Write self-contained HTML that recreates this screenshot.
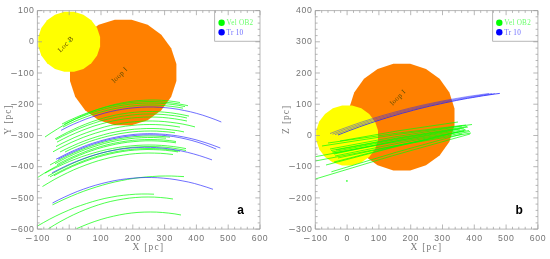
<!DOCTYPE html>
<html lang="en"><head><meta charset="utf-8"><title>Orbits</title>
<style>
html,body{margin:0;padding:0;background:#fff;}
body{width:550px;height:259px;overflow:hidden;}
svg{display:block;}
.tk{font-family:"Liberation Sans","DejaVu Sans",sans-serif;font-size:8.7px;fill:#747474;letter-spacing:0.65px;}
.mn{font-size:10px;}
.ax{font-family:"Liberation Serif","DejaVu Serif",serif;font-size:9.4px;fill:#777;letter-spacing:1.3px;}
.lg{font-family:"Liberation Serif","DejaVu Serif",serif;font-size:7.2px;letter-spacing:0.25px;}
.cl{font-family:"Liberation Serif","DejaVu Serif",serif;font-size:7.1px;fill:#5a4a00;letter-spacing:0.4px;}
.pl{font-family:"Liberation Sans","DejaVu Sans",sans-serif;font-size:12px;font-weight:bold;fill:#000;}
</style></head><body>
<svg width="550" height="259" viewBox="0 0 550 259">
<rect width="550" height="259" fill="#fff"/>
<clipPath id="ca"><rect x="37.4" y="10.6" width="222.6" height="218.5"/></clipPath>
<clipPath id="cb"><rect x="315.3" y="10.6" width="222.6" height="218.5"/></clipPath>
<g clip-path="url(#ca)">
<polygon points="176.4,64.1 171.2,48.2 161.3,34.7 147.7,24.8 131.6,19.7 114.8,19.7 98.7,24.8 85.1,34.7 75.2,48.2 70.0,64.1 70.0,80.9 75.2,96.8 85.1,110.3 98.7,120.2 114.8,125.3 131.6,125.3 147.7,120.2 161.3,110.3 171.2,96.8 176.4,80.9" fill="#ff8000"/>
<polygon points="100.1,37.0 97.1,28.0 91.3,20.3 83.4,14.7 74.1,11.8 64.3,11.8 55.0,14.7 47.1,20.3 41.3,28.0 38.3,37.0 38.3,46.6 41.3,55.6 47.1,63.3 55.0,68.9 64.3,71.8 74.1,71.8 83.4,68.9 91.3,63.3 97.1,55.6 100.1,46.6" fill="#ffff00"/>
<path d="M45.0 137.0 L51.1 132.9 L57.3 129.0 L63.4 125.4 L69.5 122.0 L75.7 118.8 L81.8 115.9 L88.0 113.2 L94.1 110.8 L100.2 108.7 L106.4 106.7 L112.5 105.0 L118.6 103.6 L124.8 102.4 L130.9 101.4 L137.0 100.7 L143.2 100.3 L149.3 100.0 L155.5 100.0 L161.6 100.3 L167.7 100.8 L173.9 101.5 L180.0 102.5" fill="none" stroke="#00ff00" stroke-width="0.7"/>
<path d="M62.0 124.0 L68.0 121.0 L74.0 118.3 L80.0 115.7 L86.0 113.4 L92.0 111.3 L98.0 109.3 L104.0 107.6 L110.0 106.1 L116.0 104.9 L122.0 103.8 L128.0 102.9 L134.0 102.2 L140.0 101.8 L146.0 101.5 L152.0 101.5 L158.0 101.7 L164.0 102.1 L170.0 102.7 L176.0 103.5 L182.0 104.5 L188.0 105.7" fill="none" stroke="#00ff00" stroke-width="0.7"/>
<path d="M64.0 124.4 L70.0 121.5 L76.1 118.8 L82.2 116.4 L88.2 114.1 L94.2 112.0 L100.3 110.2 L106.3 108.5 L112.4 107.1 L118.5 105.9 L124.5 104.9 L130.6 104.1 L136.6 103.5 L142.7 103.2 L148.7 103.0 L154.8 103.1 L160.8 103.3 L166.8 103.8 L172.9 104.5 L178.9 105.4 L185.0 106.6" fill="none" stroke="#00ff00" stroke-width="0.7"/>
<path d="M63.0 127.0 L69.0 124.0 L75.0 121.3 L81.0 118.8 L87.0 116.5 L93.0 114.4 L99.0 112.5 L105.0 110.9 L111.0 109.4 L117.0 108.2 L123.0 107.1 L129.0 106.3 L135.0 105.7 L141.0 105.2 L147.0 105.0 L153.0 105.0 L159.0 105.2 L165.0 105.7 L171.0 106.3 L177.0 107.1 L183.0 108.2" fill="none" stroke="#00ff00" stroke-width="0.7"/>
<path d="M55.0 139.0 L61.1 135.6 L67.2 132.4 L73.3 129.5 L79.4 126.7 L85.5 124.2 L91.5 121.9 L97.6 119.9 L103.7 118.0 L109.8 116.4 L115.9 115.0 L122.0 113.9 L128.1 113.0 L134.2 112.3 L140.3 111.8 L146.4 111.5 L152.5 111.5 L158.5 111.7 L164.6 112.2 L170.7 112.8 L176.8 113.7 L182.9 114.8 L189.0 116.1" fill="none" stroke="#00ff00" stroke-width="0.7"/>
<path d="M56.0 139.6 L62.2 136.3 L68.5 133.3 L74.7 130.4 L81.0 127.8 L87.2 125.4 L93.4 123.3 L99.7 121.3 L105.9 119.6 L112.1 118.2 L118.4 116.9 L124.6 115.9 L130.9 115.1 L137.1 114.5 L143.3 114.1 L149.6 114.0 L155.8 114.1 L162.0 114.4 L168.3 115.0 L174.5 115.7 L180.8 116.7 L187.0 118.0" fill="none" stroke="#00ff00" stroke-width="0.7"/>
<path d="M57.0 142.1 L63.2 138.9 L69.4 135.8 L75.6 133.1 L81.8 130.5 L88.0 128.2 L94.1 126.0 L100.3 124.2 L106.5 122.5 L112.7 121.0 L118.9 119.8 L125.1 118.8 L131.3 118.0 L137.5 117.5 L143.7 117.1 L149.9 117.0 L156.0 117.1 L162.2 117.4 L168.4 118.0 L174.6 118.8 L180.8 119.8 L187.0 121.0" fill="none" stroke="#00ff00" stroke-width="0.7"/>
<path d="M56.0 146.6 L62.0 143.4 L68.1 140.5 L74.1 137.7 L80.2 135.1 L86.2 132.8 L92.3 130.7 L98.3 128.8 L104.3 127.0 L110.4 125.5 L116.4 124.3 L122.5 123.2 L128.5 122.3 L134.6 121.7 L140.6 121.3 L146.7 121.0 L152.7 121.0 L158.7 121.2 L164.8 121.6 L170.8 122.3 L176.9 123.1 L182.9 124.1 L189.0 125.4 L195.0 126.9" fill="none" stroke="#00ff00" stroke-width="0.7"/>
<path d="M53.0 151.8 L59.0 148.5 L65.1 145.4 L71.1 142.5 L77.2 139.9 L83.2 137.4 L89.3 135.2 L95.3 133.2 L101.4 131.4 L107.4 129.8 L113.5 128.4 L119.5 127.2 L125.6 126.2 L131.6 125.5 L137.7 124.9 L143.7 124.6 L149.8 124.5 L155.8 124.6 L161.9 124.9 L167.9 125.4 L174.0 126.2 L180.0 127.1" fill="none" stroke="#00ff00" stroke-width="0.7"/>
<path d="M60.0 152.0 L66.2 148.9 L72.4 146.0 L78.6 143.3 L84.8 140.8 L91.0 138.6 L97.2 136.6 L103.4 134.8 L109.6 133.2 L115.8 131.9 L122.0 130.8 L128.2 129.9 L134.4 129.2 L140.6 128.8 L146.8 128.5 L153.0 128.5 L159.2 128.7 L165.4 129.2 L171.6 129.9 L177.8 130.7 L184.0 131.9" fill="none" stroke="#00ff00" stroke-width="0.7"/>
<path d="M65.0 152.0 L71.1 149.0 L77.2 146.4 L83.3 143.9 L89.4 141.6 L95.6 139.6 L101.7 137.8 L107.8 136.2 L113.9 134.8 L120.0 133.6 L126.1 132.7 L132.2 131.9 L138.3 131.4 L144.4 131.1 L150.6 131.0 L156.7 131.1 L162.8 131.5 L168.9 132.0 L175.0 132.8" fill="none" stroke="#00ff00" stroke-width="0.7"/>
<path d="M55.0 163.7 L61.2 160.4 L67.3 157.3 L73.5 154.5 L79.7 151.8 L85.8 149.4 L92.0 147.3 L98.2 145.3 L104.3 143.5 L110.5 142.0 L116.7 140.7 L122.8 139.6 L129.0 138.8 L135.2 138.1 L141.3 137.7 L147.5 137.5 L153.7 137.5 L159.8 137.8 L166.0 138.2" fill="none" stroke="#00ff00" stroke-width="0.7"/>
<path d="M57.0 164.6 L63.3 161.3 L69.5 158.3 L75.8 155.5 L82.1 152.9 L88.3 150.5 L94.6 148.4 L100.8 146.5 L107.1 144.8 L113.4 143.4 L119.6 142.2 L125.9 141.2 L132.2 140.4 L138.4 139.9 L144.7 139.6 L150.9 139.5 L157.2 139.7 L163.5 140.0 L169.7 140.6 L176.0 141.5" fill="none" stroke="#00ff00" stroke-width="0.7"/>
<path d="M50.0 165.0 L56.0 161.6 L62.0 158.5 L68.0 155.5 L74.0 152.8 L80.0 150.2 L86.0 147.9 L92.0 145.8 L98.0 143.8 L104.0 142.1 L110.0 140.6 L116.0 139.4 L122.0 138.3 L128.0 137.4 L134.0 136.7 L140.0 136.3 L146.0 136.0 L152.0 136.0 L158.0 136.2 L164.0 136.6 L170.0 137.2" fill="none" stroke="#00ff00" stroke-width="0.7"/>
<path d="M37.5 177.5 L43.5 173.7 L49.5 170.1 L55.6 166.7 L61.6 163.5 L67.6 160.5 L73.6 157.7 L79.7 155.2 L85.7 152.8 L91.7 150.7 L97.7 148.7 L103.7 147.0 L109.8 145.5 L115.8 144.2 L121.8 143.1 L127.8 142.2 L133.8 141.6 L139.9 141.1 L145.9 140.8 L151.9 140.8 L157.9 141.0 L164.0 141.4 L170.0 142.0 L176.0 142.8" fill="none" stroke="#00ff00" stroke-width="0.7"/>
<path d="M45.0 173.1 L51.1 169.9 L57.3 166.9 L63.4 164.1 L69.5 161.4 L75.7 159.0 L81.8 156.7 L87.9 154.7 L94.0 152.9 L100.2 151.2 L106.3 149.7 L112.4 148.5 L118.6 147.4 L124.7 146.5 L130.8 145.9 L137.0 145.4 L143.1 145.1 L149.2 145.0 L155.3 145.1 L161.5 145.4 L167.6 145.9 L173.7 146.6 L179.9 147.5 L186.0 148.6" fill="none" stroke="#00ff00" stroke-width="0.7"/>
<path d="M48.0 176.1 L54.0 172.7 L60.0 169.5 L66.0 166.5 L72.0 163.7 L78.0 161.1 L84.0 158.8 L90.0 156.6 L96.0 154.6 L102.0 152.9 L108.0 151.4 L114.0 150.1 L120.0 148.9 L126.0 148.0 L132.0 147.3 L138.0 146.9 L144.0 146.6 L150.0 146.5 L156.0 146.6 L162.0 147.0 L168.0 147.5 L174.0 148.3 L180.0 149.3 L186.0 150.5" fill="none" stroke="#00ff00" stroke-width="0.7"/>
<path d="M50.0 176.9 L56.2 173.5 L62.4 170.3 L68.6 167.3 L74.8 164.5 L81.0 161.9 L87.1 159.6 L93.3 157.5 L99.5 155.6 L105.7 153.9 L111.9 152.5 L118.1 151.3 L124.3 150.3 L130.5 149.5 L136.7 148.9 L142.9 148.6 L149.0 148.5 L155.2 148.6 L161.4 148.9 L167.6 149.5 L173.8 150.3 L180.0 151.3" fill="none" stroke="#00ff00" stroke-width="0.7"/>
<path d="M42.5 186.5 L48.7 182.8 L54.9 179.2 L61.1 175.9 L67.4 172.8 L73.6 169.9 L79.8 167.3 L86.0 164.9 L92.2 162.7 L98.4 160.7 L104.6 159.0 L110.9 157.4 L117.1 156.1 L123.3 155.1 L129.5 154.2 L135.7 153.6 L141.9 153.2 L148.1 153.0 L154.4 153.1 L160.6 153.3 L166.8 153.8 L173.0 154.5" fill="none" stroke="#00ff00" stroke-width="0.7"/>
<path d="M54.0 175.7 L60.2 172.4 L66.4 169.3 L72.6 166.4 L78.8 163.8 L85.0 161.4 L91.2 159.2 L97.4 157.2 L103.6 155.5 L109.8 154.0 L116.0 152.7 L122.2 151.6 L128.4 150.7 L134.6 150.1 L140.8 149.7 L147.0 149.5 L153.2 149.6 L159.4 149.8 L165.6 150.3 L171.8 151.0 L178.0 151.9" fill="none" stroke="#00ff00" stroke-width="0.7"/>
<path d="M52.5 204.8 L58.8 201.8 L65.0 198.9 L71.3 196.2 L77.5 193.6 L83.8 191.2 L90.1 189.0 L96.3 187.0 L102.6 185.1 L108.9 183.4 L115.1 181.9 L121.4 180.6 L127.6 179.4 L133.9 178.4 L140.2 177.6 L146.4 176.9 L152.7 176.5 L159.0 176.1 L165.2 176.0 L171.5 176.0 L177.7 176.3 L184.0 176.6" fill="none" stroke="#00ff00" stroke-width="0.7"/>
<path d="M37.5 226.0 L43.6 222.5 L49.8 219.1 L55.9 216.0 L62.0 213.1 L68.2 210.4 L74.3 207.8 L80.4 205.6 L86.6 203.5 L92.7 201.6 L98.8 199.9 L104.9 198.4 L111.1 197.2 L117.2 196.1 L123.3 195.3 L129.5 194.7 L135.6 194.2 L141.7 194.0 L147.9 194.0 L154.0 194.2" fill="none" stroke="#00ff00" stroke-width="0.7"/>
<path d="M48.5 228.7 L54.7 224.8 L61.0 221.2 L67.2 217.9 L73.4 214.8 L79.6 212.0 L85.8 209.4 L92.1 207.0 L98.3 204.9 L104.5 203.0 L110.8 201.4 L117.0 200.1 L123.2 199.0 L129.4 198.1 L135.7 197.5 L141.9 197.1 L148.1 197.0 L154.3 197.1 L160.6 197.5 L166.8 198.1 L173.0 199.0" fill="none" stroke="#00ff00" stroke-width="0.7"/>
<path d="M76.5 228.7 L82.6 226.1 L88.8 223.6 L94.9 221.4 L101.1 219.4 L107.2 217.7 L113.4 216.2 L119.5 214.9 L125.7 213.8 L131.8 213.0 L138.0 212.4 L144.1 212.1 L150.3 212.0 L156.4 212.1 L162.6 212.5 L168.7 213.1 L174.9 213.9 L181.0 215.0" fill="none" stroke="#00ff00" stroke-width="0.7"/>
<path d="M61.0 130.4 L67.2 127.2 L73.3 124.3 L79.5 121.7 L85.7 119.2 L91.8 117.0 L98.0 115.0 L104.2 113.2 L110.3 111.6 L116.5 110.3 L122.7 109.2 L128.8 108.3 L135.0 107.7 L141.2 107.2 L147.3 107.0 L153.5 107.0 L159.6 107.3 L165.8 107.7 L172.0 108.4 L178.1 109.3 L184.3 110.5 L190.5 111.8 L196.6 113.4 L202.8 115.2 L209.0 117.3 L215.1 119.5 L221.3 122.0" fill="none" stroke="#2222ff" stroke-width="0.65"/>
<path d="M56.0 159.3 L62.1 156.1 L68.2 153.1 L74.3 150.3 L80.3 147.8 L86.4 145.4 L92.5 143.3 L98.6 141.4 L104.7 139.7 L110.8 138.2 L116.9 136.9 L122.9 135.8 L129.0 135.0 L135.1 134.3 L141.2 133.9 L147.3 133.7 L153.4 133.7 L159.4 134.0 L165.5 134.4 L171.6 135.1 L177.7 135.9 L183.8 137.0 L189.9 138.3 L196.0 139.8 L202.0 141.6 L208.1 143.5 L214.2 145.7 L220.3 148.0" fill="none" stroke="#2222ff" stroke-width="0.65"/>
<path d="M58.0 159.3 L64.1 156.2 L70.2 153.3 L76.3 150.6 L82.4 148.1 L88.4 145.8 L94.5 143.7 L100.6 141.9 L106.7 140.2 L112.8 138.8 L118.9 137.6 L125.0 136.6 L131.1 135.8 L137.2 135.3 L143.2 134.9 L149.3 134.8 L155.4 134.9 L161.5 135.2 L167.6 135.8 L173.7 136.6 L179.8 137.7 L185.9 139.0 L191.9 140.5 L198.0 142.3 L204.1 144.3 L210.2 146.6 L216.3 149.1" fill="none" stroke="#2222ff" stroke-width="0.65"/>
<path d="M52.0 172.9 L58.2 169.7 L64.3 166.7 L70.5 163.8 L76.6 161.3 L82.8 158.9 L88.9 156.7 L95.1 154.8 L101.2 153.1 L107.4 151.6 L113.5 150.4 L119.7 149.3 L125.8 148.5 L132.0 147.9 L138.2 147.5 L144.3 147.3 L150.5 147.4 L156.6 147.6 L162.8 148.1 L168.9 148.8 L175.1 149.8 L181.2 150.9 L187.4 152.3 L193.5 153.9 L199.7 155.7 L205.8 157.7 L212.0 159.9" fill="none" stroke="#2222ff" stroke-width="0.65"/>
<path d="M52.5 203.0 L58.7 199.8 L64.8 196.9 L71.0 194.1 L77.2 191.5 L83.4 189.2 L89.5 187.1 L95.7 185.2 L101.9 183.5 L108.1 182.0 L114.2 180.7 L120.4 179.6 L126.6 178.8 L132.8 178.2 L138.9 177.7 L145.1 177.5 L151.3 177.5 L157.4 177.7 L163.6 178.2 L169.8 178.8 L176.0 179.7 L182.1 180.8 L188.3 182.0 L194.5 183.5 L200.7 185.3 L206.8 187.2 L213.0 189.3" fill="none" stroke="#2222ff" stroke-width="0.65"/>
<circle cx="69.5" cy="41.6" r="0.8" fill="#40ff40"/>
</g>
<g clip-path="url(#cb)">
<polygon points="454.5,108.6 449.4,92.5 439.6,78.8 426.0,68.9 410.2,63.7 393.4,63.7 377.6,68.9 364.0,78.8 354.2,92.5 349.1,108.6 349.1,125.6 354.2,141.7 364.0,155.4 377.6,165.3 393.4,170.5 410.2,170.5 426.0,165.3 439.6,155.4 449.4,141.7 454.5,125.6" fill="#ff8000"/>
<polygon points="378.0,130.6 375.0,121.6 369.2,113.9 361.3,108.3 352.0,105.4 342.2,105.4 332.9,108.3 325.0,113.9 319.2,121.6 316.2,130.6 316.2,140.2 319.2,149.2 325.0,156.9 332.9,162.5 342.2,165.4 352.0,165.4 361.3,162.5 369.2,156.9 375.0,149.2 378.0,140.2" fill="#ffff00"/>
<path d="M340.0 141.0 Q399.0 129.9 458.0 122.0" fill="none" stroke="#00ff00" stroke-width="0.7"/>
<path d="M328.0 143.0 Q397.0 132.4 466.0 125.0" fill="none" stroke="#00ff00" stroke-width="0.7"/>
<path d="M322.0 146.0 Q397.0 133.7 472.0 124.5" fill="none" stroke="#00ff00" stroke-width="0.7"/>
<path d="M330.0 149.0 Q396.0 135.9 462.0 126.0" fill="none" stroke="#00ff00" stroke-width="0.7"/>
<path d="M332.0 152.0 Q398.0 138.4 464.0 128.0" fill="none" stroke="#00ff00" stroke-width="0.7"/>
<path d="M336.0 150.0 Q402.0 136.9 468.0 127.0" fill="none" stroke="#00ff00" stroke-width="0.7"/>
<path d="M334.0 154.0 Q397.0 139.9 460.0 129.0" fill="none" stroke="#00ff00" stroke-width="0.7"/>
<path d="M315.3 156.7 Q389.6 142.2 464.0 131.0" fill="none" stroke="#00ff00" stroke-width="0.7"/>
<path d="M315.3 161.0 Q393.1 145.4 471.0 133.0" fill="none" stroke="#00ff00" stroke-width="0.7"/>
<path d="M334.0 162.0 Q400.0 144.4 466.0 130.0" fill="none" stroke="#00ff00" stroke-width="0.7"/>
<path d="M331.4 171.8 Q396.7 151.3 462.0 134.0" fill="none" stroke="#00ff00" stroke-width="0.7"/>
<path d="M315.3 179.0 Q392.6 154.9 470.0 134.0" fill="none" stroke="#00ff00" stroke-width="0.7"/>
<path d="M338.0 158.0 Q404.0 143.2 470.0 131.5" fill="none" stroke="#00ff00" stroke-width="0.7"/>
<path d="M326.0 165.0 Q392.0 146.9 458.0 132.0" fill="none" stroke="#00ff00" stroke-width="0.7"/>
<path d="M331.0 150.5 Q399.0 136.9 467.0 126.5" fill="none" stroke="#00ff00" stroke-width="0.7"/>
<path d="M333.0 153.0 Q399.0 139.7 465.0 129.5" fill="none" stroke="#00ff00" stroke-width="0.7"/>
<path d="M335.0 156.0 Q402.0 141.7 469.0 130.5" fill="none" stroke="#00ff00" stroke-width="0.7"/>
<path d="M330.0 133.6 L335.3 131.5 L340.6 129.5 L345.9 127.6 L351.2 125.7 L356.5 123.8 L361.8 122.0 L367.1 120.3 L372.4 118.6 L377.7 117.0 L383.0 115.4 L388.3 113.9 L393.6 112.4 L398.9 111.0 L404.2 109.6 L409.5 108.2 L414.8 107.0 L420.1 105.7 L425.4 104.5 L430.7 103.4 L436.0 102.3 L441.3 101.2 L446.6 100.2 L451.9 99.2 L457.2 98.3 L462.5 97.4 L467.8 96.5 L473.1 95.7 L478.4 95.0 L483.7 94.2 L489.0 93.5" fill="none" stroke="#2222ff" stroke-width="0.45"/>
<path d="M332.5 134.2 L337.8 132.1 L343.1 130.0 L348.4 128.1 L353.8 126.2 L359.1 124.3 L364.4 122.5 L369.7 120.7 L375.0 119.0 L380.4 117.4 L385.7 115.8 L391.0 114.3 L396.3 112.8 L401.6 111.3 L406.9 109.9 L412.2 108.6 L417.6 107.3 L422.9 106.0 L428.2 104.8 L433.5 103.6 L438.8 102.5 L444.1 101.4 L449.5 100.4 L454.8 99.4 L460.1 98.5 L465.4 97.5 L470.7 96.7 L476.1 95.8 L481.4 95.1 L486.7 94.3 L492.0 93.6" fill="none" stroke="#2222ff" stroke-width="0.45"/>
<path d="M335.0 134.7 L340.3 132.6 L345.7 130.6 L351.0 128.6 L356.3 126.6 L361.7 124.8 L367.0 122.9 L372.3 121.2 L377.7 119.5 L383.0 117.8 L388.3 116.2 L393.7 114.6 L399.0 113.1 L404.3 111.6 L409.7 110.2 L415.0 108.9 L420.3 107.5 L425.7 106.3 L431.0 105.0 L436.3 103.9 L441.7 102.7 L447.0 101.6 L452.3 100.6 L457.7 99.6 L463.0 98.6 L468.3 97.7 L473.7 96.8 L479.0 95.9 L484.3 95.1 L489.7 94.4 L495.0 93.6" fill="none" stroke="#2222ff" stroke-width="0.45"/>
<path d="M338.0 135.0 L343.4 132.9 L348.8 130.8 L354.2 128.8 L359.6 126.8 L365.0 124.9 L370.4 123.1 L375.8 121.3 L381.1 119.6 L386.5 117.9 L391.9 116.3 L397.3 114.7 L402.7 113.1 L408.1 111.7 L413.5 110.2 L418.9 108.8 L424.3 107.5 L429.7 106.2 L435.1 105.0 L440.5 103.8 L445.9 102.6 L451.3 101.5 L456.7 100.4 L462.0 99.4 L467.4 98.4 L472.8 97.5 L478.2 96.6 L483.6 95.7 L489.0 94.9 L494.4 94.1 L499.8 93.4" fill="none" stroke="#2222ff" stroke-width="0.8"/>
<circle cx="346.9" cy="180.9" r="0.9" fill="#40ff40"/>
</g>
<path d="M37.4 10.6H260.0V229.1H37.4ZM37.4 229.1v-4.6M37.4 10.6v4.6M43.8 229.1v-2.3M43.8 10.6v2.3M50.1 229.1v-2.3M50.1 10.6v2.3M56.5 229.1v-2.3M56.5 10.6v2.3M62.8 229.1v-2.3M62.8 10.6v2.3M69.2 229.1v-4.6M69.2 10.6v4.6M75.6 229.1v-2.3M75.6 10.6v2.3M81.9 229.1v-2.3M81.9 10.6v2.3M88.3 229.1v-2.3M88.3 10.6v2.3M94.6 229.1v-2.3M94.6 10.6v2.3M101.0 229.1v-4.6M101.0 10.6v4.6M107.4 229.1v-2.3M107.4 10.6v2.3M113.7 229.1v-2.3M113.7 10.6v2.3M120.1 229.1v-2.3M120.1 10.6v2.3M126.4 229.1v-2.3M126.4 10.6v2.3M132.8 229.1v-4.6M132.8 10.6v4.6M139.2 229.1v-2.3M139.2 10.6v2.3M145.5 229.1v-2.3M145.5 10.6v2.3M151.9 229.1v-2.3M151.9 10.6v2.3M158.2 229.1v-2.3M158.2 10.6v2.3M164.6 229.1v-4.6M164.6 10.6v4.6M171.0 229.1v-2.3M171.0 10.6v2.3M177.3 229.1v-2.3M177.3 10.6v2.3M183.7 229.1v-2.3M183.7 10.6v2.3M190.0 229.1v-2.3M190.0 10.6v2.3M196.4 229.1v-4.6M196.4 10.6v4.6M202.8 229.1v-2.3M202.8 10.6v2.3M209.1 229.1v-2.3M209.1 10.6v2.3M215.5 229.1v-2.3M215.5 10.6v2.3M221.8 229.1v-2.3M221.8 10.6v2.3M228.2 229.1v-4.6M228.2 10.6v4.6M234.6 229.1v-2.3M234.6 10.6v2.3M240.9 229.1v-2.3M240.9 10.6v2.3M247.3 229.1v-2.3M247.3 10.6v2.3M253.6 229.1v-2.3M253.6 10.6v2.3M260.0 229.1v-4.6M260.0 10.6v4.6M37.4 229.1h4.6M260.0 229.1h-4.6M37.4 222.9h2.3M260.0 222.9h-2.3M37.4 216.6h2.3M260.0 216.6h-2.3M37.4 210.4h2.3M260.0 210.4h-2.3M37.4 204.1h2.3M260.0 204.1h-2.3M37.4 197.9h4.6M260.0 197.9h-4.6M37.4 191.6h2.3M260.0 191.6h-2.3M37.4 185.4h2.3M260.0 185.4h-2.3M37.4 179.2h2.3M260.0 179.2h-2.3M37.4 172.9h2.3M260.0 172.9h-2.3M37.4 166.7h4.6M260.0 166.7h-4.6M37.4 160.4h2.3M260.0 160.4h-2.3M37.4 154.2h2.3M260.0 154.2h-2.3M37.4 147.9h2.3M260.0 147.9h-2.3M37.4 141.7h2.3M260.0 141.7h-2.3M37.4 135.5h4.6M260.0 135.5h-4.6M37.4 129.2h2.3M260.0 129.2h-2.3M37.4 123.0h2.3M260.0 123.0h-2.3M37.4 116.7h2.3M260.0 116.7h-2.3M37.4 110.5h2.3M260.0 110.5h-2.3M37.4 104.2h4.6M260.0 104.2h-4.6M37.4 98.0h2.3M260.0 98.0h-2.3M37.4 91.8h2.3M260.0 91.8h-2.3M37.4 85.5h2.3M260.0 85.5h-2.3M37.4 79.3h2.3M260.0 79.3h-2.3M37.4 73.0h4.6M260.0 73.0h-4.6M37.4 66.8h2.3M260.0 66.8h-2.3M37.4 60.5h2.3M260.0 60.5h-2.3M37.4 54.3h2.3M260.0 54.3h-2.3M37.4 48.1h2.3M260.0 48.1h-2.3M37.4 41.8h4.6M260.0 41.8h-4.6M37.4 35.6h2.3M260.0 35.6h-2.3M37.4 29.3h2.3M260.0 29.3h-2.3M37.4 23.1h2.3M260.0 23.1h-2.3M37.4 16.8h2.3M260.0 16.8h-2.3M37.4 10.6h4.6M260.0 10.6h-4.6" fill="none" stroke="#999" stroke-width="0.7"/>
<text x="38.0" y="240.6" text-anchor="middle" class="tk"><tspan class="mn">–</tspan><tspan dx="1.2">100</tspan></text>
<text x="69.3" y="240.6" text-anchor="middle" class="tk">0</text>
<text x="101.1" y="240.6" text-anchor="middle" class="tk">100</text>
<text x="132.9" y="240.6" text-anchor="middle" class="tk">200</text>
<text x="164.7" y="240.6" text-anchor="middle" class="tk">300</text>
<text x="196.5" y="240.6" text-anchor="middle" class="tk">400</text>
<text x="228.3" y="240.6" text-anchor="middle" class="tk">500</text>
<text x="260.1" y="240.6" text-anchor="middle" class="tk">600</text>
<text x="34.5" y="231.7" text-anchor="end" class="tk"><tspan class="mn">–</tspan><tspan dx="0.5">600</tspan></text>
<text x="34.5" y="200.5" text-anchor="end" class="tk"><tspan class="mn">–</tspan><tspan dx="0.5">500</tspan></text>
<text x="34.5" y="169.3" text-anchor="end" class="tk"><tspan class="mn">–</tspan><tspan dx="0.5">400</tspan></text>
<text x="34.5" y="138.1" text-anchor="end" class="tk"><tspan class="mn">–</tspan><tspan dx="0.5">300</tspan></text>
<text x="34.5" y="106.8" text-anchor="end" class="tk"><tspan class="mn">–</tspan><tspan dx="0.5">200</tspan></text>
<text x="34.5" y="75.6" text-anchor="end" class="tk"><tspan class="mn">–</tspan><tspan dx="0.5">100</tspan></text>
<text x="34.5" y="44.4" text-anchor="end" class="tk">0</text>
<text x="34.5" y="13.2" text-anchor="end" class="tk">100</text>
<path d="M315.3 10.6H537.9V229.1H315.3ZM315.3 229.1v-4.6M315.3 10.6v4.6M321.7 229.1v-2.3M321.7 10.6v2.3M328.0 229.1v-2.3M328.0 10.6v2.3M334.4 229.1v-2.3M334.4 10.6v2.3M340.7 229.1v-2.3M340.7 10.6v2.3M347.1 229.1v-4.6M347.1 10.6v4.6M353.5 229.1v-2.3M353.5 10.6v2.3M359.8 229.1v-2.3M359.8 10.6v2.3M366.2 229.1v-2.3M366.2 10.6v2.3M372.5 229.1v-2.3M372.5 10.6v2.3M378.9 229.1v-4.6M378.9 10.6v4.6M385.3 229.1v-2.3M385.3 10.6v2.3M391.6 229.1v-2.3M391.6 10.6v2.3M398.0 229.1v-2.3M398.0 10.6v2.3M404.3 229.1v-2.3M404.3 10.6v2.3M410.7 229.1v-4.6M410.7 10.6v4.6M417.1 229.1v-2.3M417.1 10.6v2.3M423.4 229.1v-2.3M423.4 10.6v2.3M429.8 229.1v-2.3M429.8 10.6v2.3M436.1 229.1v-2.3M436.1 10.6v2.3M442.5 229.1v-4.6M442.5 10.6v4.6M448.9 229.1v-2.3M448.9 10.6v2.3M455.2 229.1v-2.3M455.2 10.6v2.3M461.6 229.1v-2.3M461.6 10.6v2.3M467.9 229.1v-2.3M467.9 10.6v2.3M474.3 229.1v-4.6M474.3 10.6v4.6M480.7 229.1v-2.3M480.7 10.6v2.3M487.0 229.1v-2.3M487.0 10.6v2.3M493.4 229.1v-2.3M493.4 10.6v2.3M499.7 229.1v-2.3M499.7 10.6v2.3M506.1 229.1v-4.6M506.1 10.6v4.6M512.5 229.1v-2.3M512.5 10.6v2.3M518.8 229.1v-2.3M518.8 10.6v2.3M525.2 229.1v-2.3M525.2 10.6v2.3M531.5 229.1v-2.3M531.5 10.6v2.3M537.9 229.1v-4.6M537.9 10.6v4.6M315.3 229.1h4.6M537.9 229.1h-4.6M315.3 222.9h2.3M537.9 222.9h-2.3M315.3 216.6h2.3M537.9 216.6h-2.3M315.3 210.4h2.3M537.9 210.4h-2.3M315.3 204.1h2.3M537.9 204.1h-2.3M315.3 197.9h4.6M537.9 197.9h-4.6M315.3 191.6h2.3M537.9 191.6h-2.3M315.3 185.4h2.3M537.9 185.4h-2.3M315.3 179.2h2.3M537.9 179.2h-2.3M315.3 172.9h2.3M537.9 172.9h-2.3M315.3 166.7h4.6M537.9 166.7h-4.6M315.3 160.4h2.3M537.9 160.4h-2.3M315.3 154.2h2.3M537.9 154.2h-2.3M315.3 147.9h2.3M537.9 147.9h-2.3M315.3 141.7h2.3M537.9 141.7h-2.3M315.3 135.5h4.6M537.9 135.5h-4.6M315.3 129.2h2.3M537.9 129.2h-2.3M315.3 123.0h2.3M537.9 123.0h-2.3M315.3 116.7h2.3M537.9 116.7h-2.3M315.3 110.5h2.3M537.9 110.5h-2.3M315.3 104.2h4.6M537.9 104.2h-4.6M315.3 98.0h2.3M537.9 98.0h-2.3M315.3 91.8h2.3M537.9 91.8h-2.3M315.3 85.5h2.3M537.9 85.5h-2.3M315.3 79.3h2.3M537.9 79.3h-2.3M315.3 73.0h4.6M537.9 73.0h-4.6M315.3 66.8h2.3M537.9 66.8h-2.3M315.3 60.5h2.3M537.9 60.5h-2.3M315.3 54.3h2.3M537.9 54.3h-2.3M315.3 48.1h2.3M537.9 48.1h-2.3M315.3 41.8h4.6M537.9 41.8h-4.6M315.3 35.6h2.3M537.9 35.6h-2.3M315.3 29.3h2.3M537.9 29.3h-2.3M315.3 23.1h2.3M537.9 23.1h-2.3M315.3 16.8h2.3M537.9 16.8h-2.3M315.3 10.6h4.6M537.9 10.6h-4.6" fill="none" stroke="#999" stroke-width="0.7"/>
<text x="315.9" y="240.6" text-anchor="middle" class="tk"><tspan class="mn">–</tspan><tspan dx="1.2">100</tspan></text>
<text x="347.2" y="240.6" text-anchor="middle" class="tk">0</text>
<text x="379.0" y="240.6" text-anchor="middle" class="tk">100</text>
<text x="410.8" y="240.6" text-anchor="middle" class="tk">200</text>
<text x="442.6" y="240.6" text-anchor="middle" class="tk">300</text>
<text x="474.4" y="240.6" text-anchor="middle" class="tk">400</text>
<text x="506.2" y="240.6" text-anchor="middle" class="tk">500</text>
<text x="538.0" y="240.6" text-anchor="middle" class="tk">600</text>
<text x="312.4" y="231.7" text-anchor="end" class="tk"><tspan class="mn">–</tspan><tspan dx="0.5">300</tspan></text>
<text x="312.4" y="200.5" text-anchor="end" class="tk"><tspan class="mn">–</tspan><tspan dx="0.5">200</tspan></text>
<text x="312.4" y="169.3" text-anchor="end" class="tk"><tspan class="mn">–</tspan><tspan dx="0.5">100</tspan></text>
<text x="312.4" y="138.1" text-anchor="end" class="tk">0</text>
<text x="312.4" y="106.8" text-anchor="end" class="tk">100</text>
<text x="312.4" y="75.6" text-anchor="end" class="tk">200</text>
<text x="312.4" y="44.4" text-anchor="end" class="tk">300</text>
<text x="312.4" y="13.2" text-anchor="end" class="tk">400</text>
<text x="148.5" y="249.6" text-anchor="middle" class="ax">X [pc]</text>
<text x="426.5" y="249.6" text-anchor="middle" class="ax">X [pc]</text>
<text transform="translate(10.6 119.5) rotate(-90)" text-anchor="middle" class="ax" style="letter-spacing:1px">Y [pc]</text>
<text transform="translate(288.6 119.5) rotate(-90)" text-anchor="middle" class="ax" style="letter-spacing:1px">Z [pc]</text>
<path d="M214.6 10.6V41.3H260.0" fill="none" stroke="#999" stroke-width="0.7"/>
<circle cx="221.6" cy="22.7" r="3.2" fill="#00ff00"/>
<circle cx="221.6" cy="32.2" r="3.2" fill="#0000ff"/>
<text x="226.6" y="25.0" class="lg" fill="#6cff6c">Vel OB2</text>
<text x="226.6" y="34.6" class="lg" fill="#6c6cff">Tr 10</text>
<path d="M492.6 10.6V41.3H537.9" fill="none" stroke="#999" stroke-width="0.7"/>
<circle cx="499.3" cy="22.7" r="3.2" fill="#00ff00"/>
<circle cx="499.3" cy="32.2" r="3.2" fill="#0000ff"/>
<text x="504.3" y="25.0" class="lg" fill="#6cff6c">Vel OB2</text>
<text x="504.3" y="34.6" class="lg" fill="#6c6cff">Tr 10</text>
<text transform="translate(65.9 44.4) rotate(-45)" text-anchor="middle" class="cl" dy="2">Loc B</text>
<text transform="translate(119.8 75) rotate(-45)" text-anchor="middle" class="cl" dy="2">loop I</text>
<text transform="translate(398 97.5) rotate(-45)" text-anchor="middle" class="cl" dy="2">loop I</text>
<text x="237.2" y="213.5" class="pl">a</text>
<text x="515.4" y="213.5" class="pl">b</text>
</svg>
</body></html>
